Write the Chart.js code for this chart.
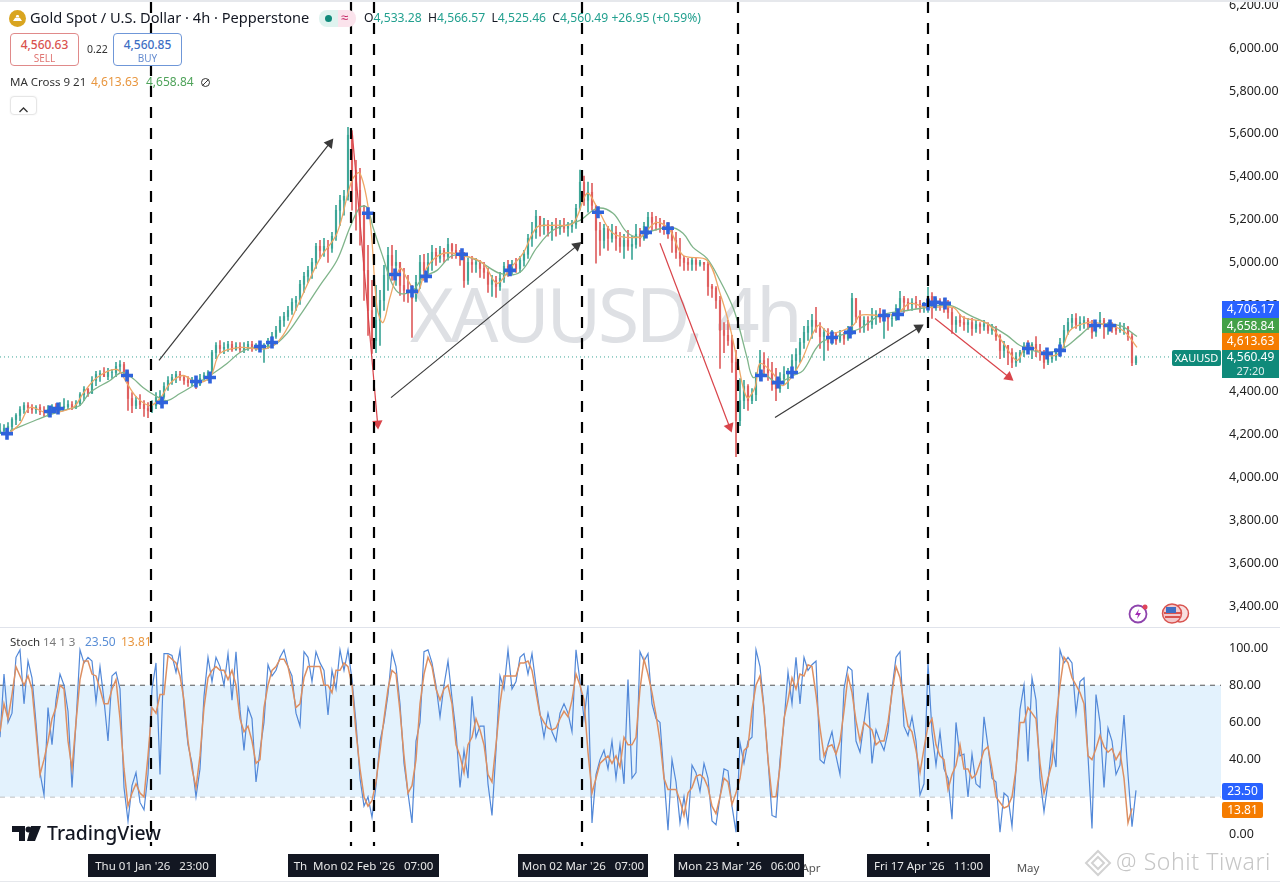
<!DOCTYPE html>
<html>
<head>
<meta charset="utf-8">
<title>XAUUSD 4h</title>
<script src="https://cdn.jsdelivr.net/npm/chart.js@4"></script>
<style>
    html, body { margin: 0; padding: 0; background: #fff; }
    body { width: 1280px; height: 888px; overflow: hidden; position: relative; font-family: "Noto Sans", sans-serif; color: #131722; }
    canvas { position: absolute; left: 0; top: 0; z-index: 2; }
    .t { position: absolute; white-space: nowrap; z-index: 3; line-height: 1; }
    .mark { position: absolute; z-index: 1; left: 410px; top: 268px; font: 75px "Noto Sans", sans-serif; letter-spacing: -3.4px; color: #dee0e4; white-space: nowrap; line-height: 90px; }
    .box { position: absolute; z-index: 3; box-sizing: border-box; border-radius: 4px; border: 1px solid; background: #fff; text-align: center; }
    .box b { display: block; font-weight: 500; font-size: 12px; margin-top: 4px; line-height: 14px; }
    .box span { display: block; font-size: 10px; line-height: 12px; opacity: .8; }
    .badge { position: absolute; z-index: 3; left: 1222px; width: 57px; color: #fff; text-align: center; font-size: 12px; line-height: 16px; }
    .date { position: absolute; z-index: 3; top: 854px; height: 23px; line-height: 23px; background: #131722; color: #e8e8e8; font-size: 11.5px; text-align: center; white-space: pre; }
    .teal { color: #22a08f; }
    .edge { position: absolute; z-index: 4; left: 0; width: 1280px; background: #e6e8ec; }
</style>
</head>
<body>
<div class="edge" style="top:0;height:2px"></div>
<div class="edge" style="top:881px;height:1px"></div>
<div class="mark">XAUUSD, 4h</div>
<canvas id="chart" width="1280" height="888"></canvas>

<svg class="t" style="left:9px;top:10px" width="17" height="17"><circle cx="8.5" cy="8.5" r="8.5" fill="#d9a520"/><path d="M4 11h9l-2-3H6zM6.500 7.500h4l-1-2.500h-2z" fill="#fff"/></svg>
<div class="t" style="left:30px;top:10px;font-size:14.6px">Gold Spot / U.S. Dollar · 4h · Pepperstone</div>
<div class="t" style="left:319px;top:10px;width:37px;height:17px;border-radius:8px;background:linear-gradient(90deg,#dff3ef 50%,#fbe3ec 50%)"></div>
<div class="t" style="left:325px;top:15px;width:7px;height:7px;border-radius:50%;background:#0f8a7a"></div>
<div class="t" style="left:341px;top:11px;font-size:13px;color:#c2185b">≈</div>
<div class="t" style="left:364px;top:12px;font-size:12.15px">O<span class="teal">4,533.28</span> &nbsp;H<span class="teal">4,566.57</span> &nbsp;L<span class="teal">4,525.46</span> &nbsp;C<span class="teal">4,560.49 +26.95 (+0.59%)</span></div>

<div class="box" style="left:10px;top:33px;width:69px;height:33px;border-color:#e08a8a;color:#d9534f"><b>4,560.63</b><span>SELL</span></div>
<div class="t" style="left:87px;top:44px;font-size:10.500px;color:#333">0.22</div>
<div class="box" style="left:113px;top:33px;width:69px;height:33px;border-color:#6f97d8;color:#3f6fc4"><b>4,560.85</b><span>BUY</span></div>

<div class="t" style="left:10px;top:76px;font-size:11.500px;color:#333">MA Cross 9 21</div>
<div class="t" style="left:91px;top:76px;font-size:12px;color:#e8963f">4,613.63</div>
<div class="t" style="left:146px;top:76px;font-size:12px;color:#4fa35a">4,658.84</div>
<svg class="t" style="left:200px;top:77px" width="11" height="11"><circle cx="5.500" cy="5.500" r="4" fill="none" stroke="#333"/><path d="M2.500 8.500l6-6" stroke="#333"/></svg>
<div class="box" style="left:10px;top:96px;width:27px;height:19px;border-color:#e6e6e6;box-shadow:0 0 2px #eee"><svg width="11" height="8" style="margin-top:4px"><path d="M1.500 6l4-4 4 4" fill="none" stroke="#333" stroke-width="1.300"/></svg></div>

<svg class="t" style="left:1128px;top:603px" width="21" height="21"><circle cx="10" cy="11" r="8.500" fill="#fff" stroke="#8e44ad" stroke-width="1.800"/><path d="M11 6l-4 6h3l-1 4 4-6h-3z" fill="#a12bb5"/><circle cx="17" cy="4" r="2.500" fill="#e0455a"/></svg>
<svg class="t" style="left:1160px;top:603px" width="30" height="21"><circle cx="20" cy="10.500" r="8.500" fill="#f8dfe0" stroke="#d9534f" stroke-width="1.500"/><circle cx="12" cy="10.500" r="9.500" fill="#f2c9cc" stroke="#d9534f" stroke-width="1.500"/><path d="M4 10h17M5 14h15" stroke="#d9534f" stroke-width="2"/><rect x="6" y="4" width="10" height="6" fill="#3f6fc4"/></svg>

<div class="t" style="left:1172px;top:350px;width:49px;height:16px;background:#0f8a7a;color:#fff;font-size:11px;line-height:16px;text-align:center;border-radius:2px">XAUUSD</div>
<div class="badge" style="top:301px;height:17px;background:#2962ff">4,706.17</div>
<div class="badge" style="top:318px;height:16px;background:#43a047">4,658.84</div>
<div class="badge" style="top:333px;height:17px;background:#f57c00">4,613.63</div>
<div class="badge" style="top:350px;height:28px;background:#0f8a7a;line-height:14px">4,560.49<br><span style="font-size:11px;opacity:.85">27:20</span></div>
<div class="badge" style="top:783px;height:17px;background:#2962ff;left:1222px;width:41px;border-radius:2px">23.50</div>
<div class="badge" style="top:802px;height:16px;background:#f57c00;left:1222px;width:41px;border-radius:2px">13.81</div>

<div class="t" style="left:10px;top:636px;font-size:11.500px;color:#333">Stoch <span style="color:#777">14 1 3</span></div>
<div class="t" style="left:85px;top:636px;font-size:12px;color:#5b8fd6">23.50</div>
<div class="t" style="left:121px;top:636px;font-size:12px;color:#e8963f">13.81</div>

<svg class="t" style="left:12px;top:825px" width="30" height="17"><path d="M0 1h13v15H7V7H0zM19 1h10l-6 15h-8z M13 2" fill="#131722"/><circle cx="16.500" cy="4.500" r="3" fill="#131722"/></svg>
<div class="t" style="left:47px;top:823px;font-size:19.4px;font-weight:500;color:#131722">TradingView</div>

<div class="date" style="left:88px;width:128px">Thu 01 Jan '26   23:00</div>
<div class="date" style="left:288px;width:151px">Th  Mon 02 Feb '26   07:00</div>
<div class="date" style="left:518px;width:130px">Mon 02 Mar '26   07:00</div>
<div class="date" style="left:674px;width:130px">Mon 23 Mar '26   06:00</div>
<div class="date" style="left:867px;width:123px">Fri 17 Apr '26   11:00</div>

<svg class="t" style="left:1083px;top:848px" width="30" height="30"><path d="M15 3l12 12-12 12L3 15z M15 9l6 6-6 6-6-6z" fill="none" stroke="#d2d2d2" stroke-width="2"/></svg>
<div class="t" style="left:1116px;top:850px;font-size:23px;font-weight:300;color:#c6c6c6;letter-spacing:.6px">@ Sohit Tiwari</div>

<script>
const highs = [
    4250,4245,4255,4278,4297,4329,4348,4348,4339,4334,
    4339,4329,4334,4339,4343,4348,4367,4357,4353,4357,
    4395,4423,4414,4469,4493,4497,4511,4507,4502,4535,
    4544,4535,4497,4395,4376,4385,4357,4348,4357,4395,
    4404,4441,4469,4479,4493,4493,4474,4469,4465,4460,
    4479,4488,4497,4591,4628,4637,4628,4633,4633,4628,
    4628,4628,4633,4633,4623,4628,4623,4647,4675,4703,
    4749,4768,4796,4833,4843,4917,4955,4983,5020,5090,
    5104,5113,5104,5141,5267,5314,5337,5631,5594,5477,
    5440,5267,5081,4917,4894,4871,4987,5071,5081,5057,
    5001,4973,4941,4894,4941,5034,5039,5043,5081,5067,
    5076,5067,5113,5090,5085,5057,5048,5020,5029,5020,
    5011,5001,4973,4941,4936,4955,5001,5011,5011,5020,
    5029,5057,5132,5188,5244,5216,5207,5197,5188,5207,
    5197,5207,5188,5197,5272,5431,5403,5375,5370,5267,
    5188,5179,5169,5179,5169,5141,5132,5151,5123,5179,
    5160,5188,5235,5235,5216,5207,5197,5188,5169,5141,
    5113,5029,5020,5025,5020,5011,5001,5001,4899,4889,
    4843,4721,4731,4661,4591,4460,4451,4432,4413,4488,
    4591,4581,4553,4535,4507,4488,4516,4507,4572,4600,
    4647,4703,4731,4759,4792,4721,4693,4693,4684,4675,
    4684,4675,4703,4857,4833,4777,4749,4749,4787,4777,
    4787,4768,4759,4759,4805,4866,4843,4833,4833,4843,
    4824,4815,4885,4861,4833,4833,4833,4824,4787,4749,
    4759,4749,4740,4740,4731,4721,4731,4721,4712,4703,
    4665,4633,4614,4600,4581,4591,4628,4637,4628,4656,
    4619,4591,4581,4581,4600,4647,4708,4740,4759,4763,
    4749,4749,4740,4731,4721,4768,4740,4721,4721,4712,
    4721,4717,4703,4670,4566
];
const lows = [
    4203,4198,4198,4217,4245,4264,4297,4301,4297,4297,
    4292,4283,4283,4297,4306,4306,4311,4315,4315,4320,
    4334,4357,4376,4395,4427,4446,4469,4455,4460,4469,
    4488,4469,4311,4301,4320,4320,4283,4278,4301,4320,
    4339,4367,4404,4432,4441,4451,4432,4423,4427,4413,
    4427,4451,4451,4488,4553,4581,4576,4586,4586,4591,
    4581,4581,4591,4586,4591,4591,4535,4600,4619,4647,
    4675,4703,4731,4759,4777,4805,4861,4908,4927,4973,
    5020,5029,5001,5048,5104,5174,5221,5291,5244,5151,
    5081,4824,4661,4577,4581,4614,4777,4871,4917,4894,
    4847,4819,4815,4651,4819,4880,4917,4941,4964,4987,
    5001,5001,5011,5020,5020,4987,4884,4899,4955,4955,
    4931,4927,4861,4843,4838,4871,4908,4936,4945,4955,
    4955,4983,5020,5076,5113,5123,5132,5123,5104,5123,
    5132,5141,5123,5141,5160,5244,5267,5235,5244,4997,
    5034,5067,5057,5095,5057,5048,5020,5057,5015,5067,
    5076,5104,5132,5151,5151,5141,5132,5113,5048,5020,
    4983,4964,4964,4964,4964,4983,4964,4847,4838,4787,
    4507,4581,4614,4488,4096,4240,4320,4311,4343,4357,
    4451,4479,4451,4404,4357,4395,4432,4413,4469,4497,
    4535,4600,4637,4647,4675,4600,4544,4591,4619,4619,
    4628,4619,4637,4665,4721,4675,4675,4684,4693,4712,
    4721,4647,4684,4703,4731,4777,4768,4777,4777,4787,
    4768,4768,4768,4740,4777,4777,4768,4740,4670,4675,
    4703,4684,4675,4661,4675,4670,4684,4670,4665,4637,
    4553,4558,4525,4511,4516,4535,4562,4581,4553,4562,
    4544,4507,4525,4535,4544,4562,4609,4665,4693,4693,
    4684,4693,4689,4647,4656,4693,4647,4665,4675,4665,
    4675,4665,4637,4520,4525
];
const closes = [
    4217,4227,4236,4269,4288,4315,4334,4325,4315,4325,
    4306,4301,4315,4329,4320,4325,4329,4339,4325,4343,
    4385,4409,4390,4451,4479,4483,4469,4488,4488,4516,
    4525,4488,4367,4334,4357,4339,4320,4311,4334,4371,
    4376,4423,4451,4465,4479,4465,4451,4441,4451,4432,
    4460,4474,4488,4581,4614,4600,4605,4619,4595,4609,
    4595,4600,4619,4605,4609,4600,4609,4633,4656,4684,
    4731,4749,4777,4815,4824,4899,4936,4964,5001,5076,
    5057,5076,5067,5123,5244,5291,5309,5594,5431,5337,
    5221,4964,4777,4637,4731,4824,4941,5034,4987,5001,
    4894,4871,4861,4833,4908,5001,4964,5001,5048,5020,
    5057,5029,5085,5057,5039,5029,4917,5001,4992,5001,
    4973,4955,4899,4917,4889,4927,4983,4973,4992,4973,
    5011,5039,5113,5141,5216,5169,5179,5151,5169,5160,
    5169,5160,5169,5179,5253,5375,5291,5328,5267,5151,
    5104,5160,5113,5141,5113,5076,5104,5076,5085,5132,
    5113,5169,5211,5188,5179,5169,5160,5141,5104,5048,
    5020,5001,4992,5011,4992,5001,4992,4889,4880,4824,
    4684,4661,4637,4535,4264,4357,4423,4357,4385,4460,
    4544,4507,4488,4432,4413,4460,4479,4488,4544,4572,
    4628,4675,4703,4731,4693,4656,4675,4628,4665,4637,
    4665,4647,4684,4833,4749,4703,4731,4712,4749,4759,
    4740,4749,4740,4740,4787,4833,4815,4805,4815,4805,
    4796,4805,4843,4796,4815,4805,4796,4768,4712,4731,
    4721,4712,4721,4693,4712,4703,4712,4684,4693,4656,
    4591,4614,4581,4535,4562,4581,4609,4600,4619,4591,
    4581,4535,4553,4562,4581,4628,4684,4721,4740,4712,
    4721,4731,4712,4675,4703,4731,4703,4703,4693,4684,
    4693,4698,4656,4533,4560
];

// moving averages read at the turning points: [bar, price]
const ma21Points = [
    [2.5,4217],[7.5,4255],[12.5,4292],[17.5,4320],[20,4334],[22.5,4395],[27.5,4451],[30.5,4488],[33.25,4460],[35.75,4418],
    [38.75,4381],[41.75,4357],[45,4390],[49.25,4437],[53.25,4483],[56.75,4530],[60,4581],[63.25,4605],[68.25,4614],[71.75,4670],
    [75,4754],[80,4894],[84.25,5011],[87.5,5165],[90,5258],[91.75,5258],[93.25,5165],[95.75,5025],[98,4903],[100,4857],
    [103.25,4871],[105.75,4931],[109.25,4964],[113.25,5034],[119.25,5011],[125,4950],[130,4955],[134.25,5071],[138.25,5151],[145,5197],
    [149.25,5253],[153.25,5230],[156.75,5141],[160,5118],[161.25,5137],[167.5,5165],[170.75,5137],[173.25,5071],[176.75,5020],[180,4917],
    [183.25,4791],[185,4684],[186.75,4558],[188.25,4465],[190.75,4483],[194.25,4441],[198.25,4474],[200.75,4497],[205,4623],[210,4661],
    [215,4693],[220,4754],[226.75,4777],[231.75,4791],[237.5,4801],[242.5,4754],[246.75,4717],[251.75,4661],[255,4614],[260.75,4581],
    [265.75,4600],[270,4661],[273.25,4707],[280,4707],[284.25,4656]
];
const ma9Points = [
    [2.5,4208],[5,4250],[7.5,4325],[11.75,4301],[18.25,4325],[20.75,4390],[24.25,4465],[29.25,4502],[31.75,4437],[34.25,4371],
    [37.5,4334],[40,4367],[42.5,4437],[45.75,4474],[49.25,4441],[52.5,4465],[55,4577],[60,4605],[66.75,4600],[70.75,4661],
    [75,4824],[80,5020],[84.25,5137],[88,5384],[90,5417],[92.5,5197],[94.25,4791],[95.75,4721],[97.5,4838],[100,4973],
    [102,4917],[104.25,4857],[106.75,4978],[110.75,5043],[115.75,5034],[120.75,4997],[124.25,4903],[127.5,4973],[130.75,5043],[134.25,5165],
    [138.25,5174],[143.25,5183],[146.75,5323],[149.25,5258],[153.25,5137],[160,5118],[161.75,5151],[164.25,5188],[167.5,5151],[170.75,5034],
    [176.75,5011],[180,4857],[182.5,4698],[184.5,4530],[186.75,4371],[188.75,4418],[190,4530],[193.25,4483],[195.75,4427],[200,4530],
    [204.5,4707],[207.5,4670],[213.25,4707],[215,4754],[220,4754],[224.25,4763],[227.5,4810],[231.75,4791],[238.25,4791],[240.75,4745],
    [246.75,4717],[250.75,4628],[254.25,4544],[256.75,4614],[261.75,4567],[265,4581],[267.5,4684],[271.75,4721],[275,4717],[280.75,4684],
    [284.25,4605]
];
const crossPoints = [
    [1.75,4203],[12.5,4306],[14.5,4320],[31.75,4474],[40.5,4348],[49,4446],[52.5,4465],[65,4609],[68,4628],[92,5230],
    [98.75,4945],[103,4866],[106.5,4936],[115.5,5039],[127.5,4964],[149.5,5235],[161.5,5141],[167,5160],[190.25,4474],[194.5,4441],
    [198,4488],[208,4651],[212.5,4675],[221,4754],[224.5,4759],[232,4805],[233.75,4815],[236.25,4810],[257,4600],[261.75,4577],
    [265,4591],[273.75,4707],[277.5,4707]
];

const stochK = [
    52,86,60,65,95,99,70,93,84,60,33,21,68,48,72,86,80,66,25,60,
    99,92,95,93,71,90,72,50,85,87,78,25,7,26,33,17,13,32,78,92,
    32,97,97,96,87,99,68,48,38,20,35,74,95,82,95,90,80,97,72,98,
    67,45,68,62,28,45,60,91,85,88,95,99,90,85,65,58,98,95,82,98,
    92,88,64,88,78,99,88,99,83,60,30,15,20,9,26,50,60,75,98,90,
    70,38,22,6,50,60,98,99,92,80,63,80,93,73,55,25,45,30,74,52,
    58,58,27,10,45,85,78,99,78,82,95,97,86,97,80,65,52,65,55,50,
    65,70,65,55,99,82,62,80,6,32,40,45,35,50,30,48,27,83,30,33,
    98,93,97,70,62,60,31,2,40,28,6,20,5,37,33,23,38,30,7,5,
    20,35,34,15,1,49,38,50,52,99,90,68,40,10,9,40,60,87,70,95,
    70,95,88,91,93,40,38,48,55,42,32,78,90,88,50,44,60,76,38,56,
    50,45,55,78,95,98,58,53,63,50,21,27,92,55,37,55,35,30,8,60,
    42,43,20,43,27,25,63,47,30,28,1,22,20,4,35,67,80,39,84,72,
    30,12,28,49,36,99,92,95,92,65,82,84,42,3,75,60,25,57,50,32,
    37,64,32,4,23.5
];
const stochD = [
    55,70,62,75,90,85,80,85,78,55,32,40,50,62,68,80,78,50,35,
    60,83,93,93,86,85,78,70,70,78,83,62,35,15,22,27,22,20,42,68,
    65,75,75,96,94,92,85,72,50,35,25,42,68,84,88,90,88,88,83,88,
    80,62,55,58,50,38,40,68,80,88,90,94,94,90,80,68,70,84,90,90,
    90,90,80,80,76,88,88,92,90,80,55,35,20,15,18,28,45,62,78,88,
    86,66,42,22,26,40,70,86,95,90,78,72,78,80,70,48,42,33,48,52,
    62,56,48,32,28,48,70,85,85,85,85,92,92,93,88,76,64,60,57,56,
    57,62,66,63,72,86,80,72,44,22,30,38,40,42,38,42,36,52,48,48,
    52,78,94,86,76,64,50,30,24,24,24,18,10,22,25,31,32,30,25,15,
    11,20,30,28,16,22,30,45,47,67,80,85,67,40,20,20,36,62,72,84,
    78,86,85,91,90,75,57,42,47,48,43,50,66,85,76,61,50,60,58,56,
    48,50,50,60,76,90,84,70,58,55,45,33,46,58,62,48,42,40,24,32,
    37,48,35,35,30,32,38,45,47,35,20,17,14,15,20,35,60,60,68,65,
    62,38,22,30,38,62,80,95,92,84,80,76,70,42,40,46,53,47,44,46,
    40,44,30,6,13.81
];

const priceTicksStep = 200;
const stochTicksStep = 20;
const stochLevels = [80, 50, 20];
const lastPrice = 4560.49;
const markerBars = [37.75, 87.75, 93.5, 145.5, 184.5, 232];
const monthTicks = { 202.75: 'Apr', 257: 'May' };

// [from bar, from price, to bar, to price]
const blackArrows = [[39.75,4544,82.4,5556],[97.75,4371,144.2,5078],[193.75,4278,229.65,4697]];
const redArrows = [[88,5617,94.4,4250],[165,5090,182.4,4234],[233.75,4740,252.2,4467]];

const upColor = '#3ea697';
const downColor = '#df5f5f';
const opens = closes.map((c, i) => i ? closes[i - 1] : 4205);
const barColors = closes.map((c, i) => c >= opens[i] ? upColor : downColor);

const arrowDataset = (a, color) => ({
    type: 'line',
    order: 1,
    data: [{ x: a[0], y: a[1] }, { x: a[2], y: a[3] }],
    borderColor: color,
    backgroundColor: color,
    borderWidth: 1.2,
    pointRadius: [0, 6],
    pointStyle: 'triangle',
    pointBorderWidth: 0,
    pointRotation: (ctx) => {
        const { x, y } = ctx.chart.scales;
        const dx = x.getPixelForValue(a[2]) - x.getPixelForValue(a[0]);
        const dy = y.getPixelForValue(a[3]) - y.getPixelForValue(a[1]);
        return Math.atan2(dy, dx) * 180 / Math.PI + 90;
    }
});

const levelDataset = (level) => ({
    type: 'line',
    order: 9,
    yAxisID: 'y2',
    data: [{ x: 0, y: level }, { x: 305.25, y: level }],
    borderColor: level === 80 ? '#555' : '#888',
    borderWidth: 1,
    borderDash: [5, 5],
    pointRadius: 0,
    fill: level === 80 ? { value: 20 } : false,
    backgroundColor: '#e3f2fd'
});

const verticalMarkers = {
    id: 'verticalMarkers',
    beforeDatasetsDraw(chart) {
        const { ctx, chartArea } = chart;
        ctx.save();
        ctx.strokeStyle = '#e0e3eb';
        ctx.beginPath();
        const split = chart.scales.y.bottom + 0.5;
        ctx.moveTo(chartArea.left, split);
        ctx.lineTo(chart.width, split);
        ctx.stroke();
        ctx.restore();
    },
    afterDatasetsDraw(chart) {
        const { ctx, scales } = chart;
        ctx.save();
        ctx.strokeStyle = '#000';
        ctx.lineWidth = 2.2;
        ctx.setLineDash([11, 10]);
        markerBars.forEach((b) => {
            const px = scales.x.getPixelForValue(b);
            ctx.beginPath();
            ctx.moveTo(px, 2);
            ctx.lineTo(px, 846);
            ctx.stroke();
        });
        ctx.restore();
    }
};

const fitRightAxis = (s) => {
    s.width = 59;
    s.paddingTop = 0;
    s.paddingBottom = 0;
};

new Chart(document.getElementById('chart'), {
    type: 'bar',
    data: {
        datasets: [
            ...blackArrows.map((a) => arrowDataset(a, '#3a3a3a')),
            ...redArrows.map((a) => arrowDataset(a, '#d9444a')),
            {
                type: 'line', order: 2, showLine: false,
                data: crossPoints.map((p) => ({ x: p[0], y: p[1] })),
                pointStyle: 'cross', pointRadius: 6, pointBorderWidth: 3.6,
                pointBorderColor: '#2f63dc', pointBackgroundColor: '#2f63dc'
            },
            {
                type: 'line', order: 3,
                data: ma9Points.map((p) => ({ x: p[0], y: p[1] })),
                borderColor: '#eea766', borderWidth: 1.3, pointRadius: 0, tension: 0.35
            },
            {
                type: 'line', order: 3,
                data: ma21Points.map((p) => ({ x: p[0], y: p[1] })),
                borderColor: '#7fb48a', borderWidth: 1.3, pointRadius: 0, tension: 0.35
            },
            {
                order: 4, grouped: false, barThickness: 1.5,
                data: closes.map((c, i) => ({ x: i, y: [opens[i], c] })),
                backgroundColor: barColors
            },
            {
                order: 5, grouped: false, barThickness: 1,
                data: closes.map((c, i) => ({ x: i, y: [lows[i], highs[i]] })),
                backgroundColor: barColors
            },
            {
                type: 'line', order: 6,
                data: [{ x: 0, y: lastPrice }, { x: 293, y: lastPrice }],
                borderColor: '#3ea697', borderWidth: 1, borderDash: [1, 3], pointRadius: 0
            },
            {
                type: 'line', order: 7, yAxisID: 'y2',
                data: stochD.map((v, i) => ({ x: i, y: v })),
                borderColor: '#dd8f62', borderWidth: 1.5, pointRadius: 0
            },
            {
                type: 'line', order: 8, yAxisID: 'y2',
                data: stochK.map((v, i) => ({ x: i, y: v })),
                borderColor: '#5288d8', borderWidth: 1.2, pointRadius: 0
            },
            ...stochLevels.map(levelDataset)
        ]
    },
    options: {
        responsive: false,
        animation: false,
        layout: { autoPadding: false, padding: 0 },
        plugins: { legend: { display: false }, tooltip: { enabled: false } },
        scales: {
            x: {
                type: 'linear', min: 0, max: 305.25, offset: false,
                grid: { display: false }, border: { display: false },
                afterBuildTicks: (s) => { s.ticks = Object.keys(monthTicks).map((k) => ({ value: +k })); },
                afterFit: (s) => { s.height = 40; s.paddingLeft = 0; s.paddingRight = 0; },
                ticks: {
                    autoSkip: false, maxRotation: 0, padding: 6, color: '#555',
                    font: { family: 'Noto Sans', size: 11.5 },
                    callback: (v) => monthTicks[v]
                }
            },
            y: {
                position: 'right', stack: 'panes', stackWeight: 627,
                min: 3302, max: 6224,
                grid: { display: false }, border: { display: false },
                afterFit: fitRightAxis,
                ticks: {
                    stepSize: priceTicksStep, includeBounds: false, padding: 0, color: '#222',
                    font: { family: 'Noto Sans', size: 12.5 },
                    callback: (v) => v.toLocaleString('en-US', { minimumFractionDigits: 2 })
                }
            },
            y2: {
                position: 'right', stack: 'panes', stackWeight: 221,
                min: -7.5, max: 111.3,
                grid: { display: false }, border: { display: false },
                afterFit: fitRightAxis,
                ticks: {
                    stepSize: stochTicksStep, includeBounds: false, padding: 0, color: '#222',
                    font: { family: 'Noto Sans', size: 12.5 },
                    callback: (v) => v.toFixed(2)
                }
            }
        }
    },
    plugins: [verticalMarkers]
});
</script>
</body>
</html>
